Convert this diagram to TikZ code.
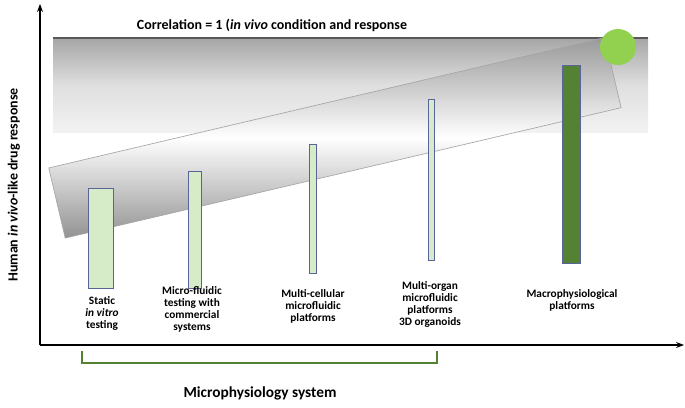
\documentclass[tikz,border=0pt]{standalone}
\usepackage{fontspec}
\setmainfont{Carlito}
\usetikzlibrary{arrows.meta}
\definecolor{lg}{RGB}{214,236,200}
\definecolor{dg}{RGB}{84,130,53}
\definecolor{cg}{RGB}{146,208,80}
\definecolor{bb}{RGB}{90,100,150}
\tikzset{bar/.style={draw=bb,fill=lg,line width=0.6pt},
lab/.style={font=\bfseries\fontsize{8.5}{9}\selectfont,align=center,anchor=north}}
\begin{document}
\begin{tikzpicture}[x=0.75pt,y=-0.75pt]
\useasboundingbox (0,0) rectangle (685,407);
% band
\shade[top color=gray!70,bottom color=gray!10,middle color=gray!25] (53,38) rectangle (648,132);
\draw[line width=2pt,gray!70!black] (53,38) -- (648,38);
% tube
\begin{scope}[shift={(57,203)},rotate=13.2]
\shade[top color=gray!80,bottom color=gray!85,middle color=white,draw=gray!70,line width=0.5pt] (0,-36) rectangle (571,36);
\end{scope}
\node[circle,fill=cg,minimum size=27pt,inner sep=0] (c) at (618,47) {};
\node[font=\bfseries\fontsize{10.5}{12}\selectfont] (t) at (272,25) {Correlation = 1 (\textit{in vivo} condition and response};
% axes
\coordinate (o) at (40,345);
\coordinate (ya) at (40,4);
\coordinate (xa) at (684,345);
\draw[line width=0.8pt,-{Stealth[length=6pt]}] (o) -- (ya);
\draw[line width=0.8pt,-{Stealth[length=6pt]}] (o) -- (xa);
\node[rotate=90,font=\bfseries\fontsize{10.5}{12}\selectfont] (yl) at (14,185) {Human \textit{in vivo}-like drug response};
% bars
\draw[bar] (88,188) rectangle (113,288);
\draw[bar] (188,171) rectangle (201,288);
\draw[bar] (309,144) rectangle (316,273);
\draw[bar] (428,99) rectangle (434,260);
\draw[draw=bb,fill=dg] (562,65) rectangle (580,263);
\node[lab] (l1) at (102,292) {Static\\\textit{in vitro}\\testing};
\node[lab] (l2) at (192,282) {Micro-fluidic\\testing with\\commercial\\systems};
\node[lab] (l3) at (313,285) {Multi-cellular\\microfluidic\\platforms};
\node[lab] (l4) at (430,277) {Multi-organ\\microfluidic\\platforms\\3D organoids};
\node[lab] (l5) at (572,285) {Macrophysiological\\platforms};
% bracket
\draw[dg,line width=2pt] (82,351) -- (82,363) -- (437,363) -- (437,351);
\node[font=\bfseries\fontsize{11.5}{13}\selectfont] (m) at (260,393) {Microphysiology system};
\end{tikzpicture}
\end{document}
